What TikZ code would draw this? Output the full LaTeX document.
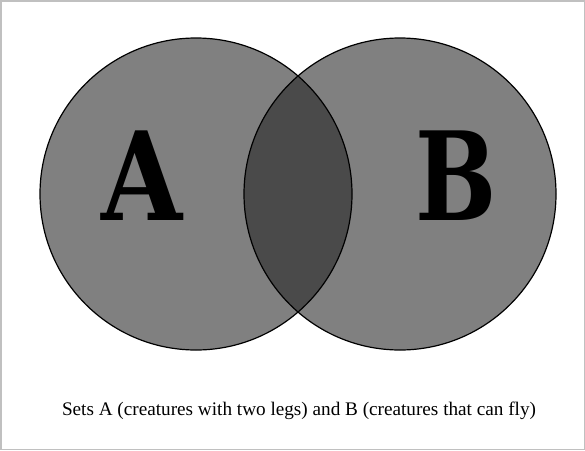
\documentclass[tikz,border=0pt]{standalone}
\usepackage{fontspec}
\setmainfont{Liberation Serif}
\newfontfamily\letterfont{DejaVu Serif}
\definecolor{setgray}{RGB}{128,128,128}
\definecolor{lensgray}{RGB}{74,74,74}
\definecolor{framegray}{RGB}{192,192,192}

\begin{document}
\begin{tikzpicture}[x=1pt, y=-1pt, set/.style={line width=1.2pt, draw=black}, setletter/.style={font=\letterfont\bfseries\fontsize{123}{123}\selectfont, anchor=base, inner sep=0pt, xscale=0.85, transform shape}, caption/.style={font=\fontsize{19.2}{22}\selectfont, anchor=base, inner sep=0pt}]
\useasboundingbox (0,0) rectangle (585,450);
\draw[framegray, line width=1.5pt] (0.75,0.75) rectangle (584.25,449.25);
\coordinate (centerA) at (196,194);
\coordinate (centerB) at (400,194);
\fill[setgray] (centerA) circle[radius=156];
\fill[setgray] (centerB) circle[radius=156];
\begin{scope}
    \clip (centerA) circle[radius=156];
    \fill[lensgray] (centerB) circle[radius=156];
\end{scope}
\draw[set] (centerA) circle[radius=156];
\draw[set] (centerB) circle[radius=156];
\node[setletter] (letterA) at (142,220) {A};
\node[setletter, xscale=0.92] (letterB) at (456,220) {B};
\node[caption] (caption) at (299,415) {Sets A (creatures with two legs) and B (creatures that can fly)};
\end{tikzpicture}
\end{document}
